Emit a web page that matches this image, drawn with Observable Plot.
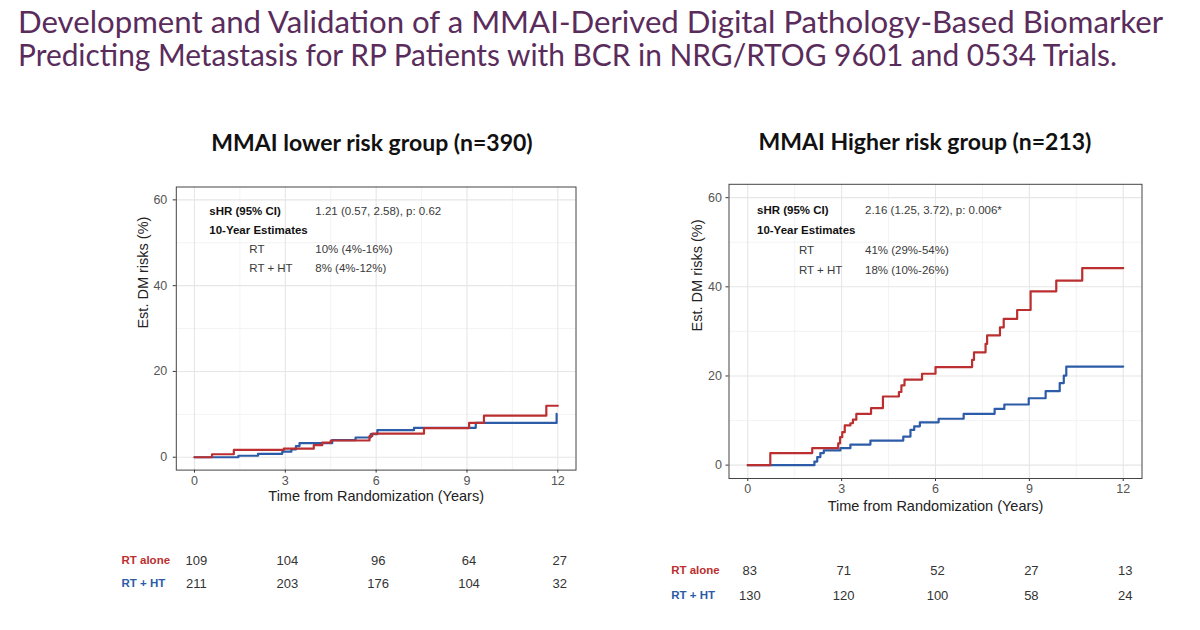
<!DOCTYPE html>
<html><head><meta charset="utf-8">
<script src="https://cdn.jsdelivr.net/npm/d3@7"></script>
<script src="https://cdn.jsdelivr.net/npm/@observablehq/plot@0.6"></script>
<style>
body{margin:0;width:1200px;height:630px;background:#fff;position:relative;overflow:hidden;font-family:"Liberation Sans",Arial,sans-serif;}
.tline{position:absolute;left:18px;font-family:Lato,sans-serif;font-size:30px;color:#5a2c5c;line-height:34px;white-space:nowrap;transform-origin:0 0;}
.ptitle{position:absolute;font-family:Lato,sans-serif;font-weight:bold;font-size:23px;color:#111;text-align:center;line-height:28px;white-space:nowrap;}
.abs{position:absolute;}
</style></head><body>
<div id="t1" class="tline" style="top:4px;" data-w="1145">Development and Validation of a MMAI-Derived Digital Pathology-Based Biomarker</div>
<div id="t2" class="tline" style="top:37px;" data-w="1099">Predicting Metastasis for RP Patients with BCR in NRG/RTOG 9601 and 0534 Trials.</div>
<div class="ptitle" style="left:172px;top:128px;width:400px;">MMAI lower risk group (n=390)</div>
<div class="ptitle" style="left:725px;top:127px;width:400px;">MMAI Higher risk group (n=213)</div>
<div id="lowKM" class="abs" style="left:100px;top:170px;"></div>
<div id="highKM" class="abs" style="left:640px;top:170px;"></div>
<div id="lowTab" class="abs" style="left:100px;top:540px;"></div>
<div id="highTab" class="abs" style="left:640px;top:550px;"></div>
<script>
// ---------- data ----------
const groups = ["RT alone", "RT + HT"];
const yearTicks = [0, 3, 6, 9, 12];
const yearMinor = [1.5, 4.5, 7.5, 10.5];
const riskTicks = [0, 20, 40, 60];
const riskMinor = [10, 30, 50];
const xTitle = "Time from Randomization (Years)";
const yTitle = "Est. DM risks (%)";
const statLabels = ["sHR (95% CI)", "10-Year Estimates", "RT", "RT + HT"];

// lower risk group: [years, cumulative incidence %]
const lowerRT = [[0,0],[0.58,0.7],[1.30,1.7],[2.95,2.0],[3.94,2.8],[4.22,3.4],[4.5,3.9],[5.78,4.9],[5.87,5.5],[7.58,6.8],[9.07,8.0],[9.56,9.7],[11.62,12.0],[12,12.0]];
const lowerRTHT = [[0,0],[1.45,0.35],[2.1,0.8],[2.9,1.3],[3.2,1.8],[3.35,2.6],[3.47,3.3],[4.55,4.0],[5.32,4.6],[5.82,5.4],[6.04,6.3],[7.25,6.85],[9.29,8.0],[11.96,10.1]];
const lowerStats = ["1.21 (0.57, 2.58), p: 0.62", "10% (4%-16%)", "8% (4%-12%)"];
const lowerAtRiskRT = [109, 104, 96, 64, 27];
const lowerAtRiskRTHT = [211, 203, 176, 104, 32];

// higher risk group
const higherRT = [[0,0],[0.72,2.7],[2.06,3.8],[2.89,4.9],[2.95,6.3],[3.02,7.4],[3.1,8.9],[3.28,9.4],[3.36,10.2],[3.47,11.5],[3.94,12.8],[4.32,15.4],[4.83,16.4],[4.91,17.9],[5.01,19.2],[5.57,20.5],[6.0,22.0],[7.17,23.6],[7.23,25.3],[7.6,27.2],[7.65,29.1],[8.06,30.9],[8.18,32.8],[8.61,34.8],[9.04,39.0],[9.86,41.4],[10.69,44.2],[12,44.2]];
const higherRTHT = [[0,0],[2.13,0.8],[2.22,1.8],[2.32,2.7],[2.43,3.3],[2.96,3.8],[3.28,4.6],[3.92,5.5],[4.97,6.4],[5.2,7.9],[5.32,8.7],[5.5,9.6],[6.1,10.4],[6.9,11.5],[7.89,12.6],[8.2,13.6],[8.98,15.0],[9.52,16.6],[9.97,18.4],[10.1,20.1],[10.18,22.1],[12,22.1]];
const higherStats = ["2.16 (1.25, 3.72), p: 0.006*", "41% (29%-54%)", "18% (10%-26%)"];
const higherAtRiskRT = [83, 71, 52, 27, 13];
const higherAtRiskRTHT = [130, 120, 100, 58, 24];

// ---------- styling ----------
const COLORS = ["#bb2f30", "#2c5ba8"];
const FONT = "'Liberation Sans', Arial, sans-serif";

// fit title lines to the reference widths
for (const id of ["t1", "t2"]) {
  const el = document.getElementById(id);
  const w = el.getBoundingClientRect().width;
  el.style.transform = `scaleX(${(+el.dataset.w) / w})`;
}

function kmPlot(cfg) {
  const rows = (arr, g) => arr.map(([t, v]) => ({t, v, g}));
  const rt = rows(cfg.rt, groups[0]);
  const ht = rows(cfg.ht, groups[1]);
  const L = cfg.lay;
  const fs = 11.5;
  const txt = (s, dx, dy, bold) => Plot.text([s], {frameAnchor: "top-left", dx, dy, textAnchor: "start",
    fontSize: fs, fontWeight: bold ? "bold" : "normal", fill: bold ? "#111" : "#3a3a3a"});
  return Plot.plot({
    width: L.width, height: L.height,
    marginLeft: L.ml, marginRight: L.mr, marginTop: L.mt, marginBottom: L.mb,
    x: {domain: [-0.6, 12.6]},
    y: {domain: [-3, 63]},
    color: {domain: groups, range: COLORS},
    style: {fontFamily: FONT, fontSize: "12px", color: "#555", background: "white", overflow: "visible"},
    marks: [
      Plot.gridX(yearMinor, {stroke: "#f0f0f0", strokeOpacity: 1, strokeWidth: 0.8}),
      Plot.gridY(riskMinor, {stroke: "#f0f0f0", strokeOpacity: 1, strokeWidth: 0.8}),
      Plot.gridX(yearTicks, {stroke: "#e6e6e6", strokeOpacity: 1, strokeWidth: 1.1}),
      Plot.gridY(riskTicks, {stroke: "#e6e6e6", strokeOpacity: 1, strokeWidth: 1.1}),
      Plot.axisX(yearTicks, {tickSize: 3, tickPadding: 3, fontSize: 12.5, label: null, stroke: "#333"}),
      Plot.axisY(riskTicks, {tickSize: 3, tickPadding: L.yPad, fontSize: 12.5, label: null, stroke: "#333"}),
      Plot.text([xTitle], {frameAnchor: "bottom", dy: L.xTitleDy, fontSize: 14.5, fill: "#222"}),
      Plot.text([yTitle], {frameAnchor: "left", rotate: -90, dx: L.yTitleDx, fontSize: 14.5, fill: "#222"}),
      Plot.line(ht, {x: "t", y: "v", stroke: "g", curve: "step-after", strokeWidth: 2.2}),
      Plot.line(rt, {x: "t", y: "v", stroke: "g", curve: "step-after", strokeWidth: 2.2}),
      Plot.frame({stroke: "#444", strokeWidth: 1}),
      txt(statLabels[0], L.c1, L.r[0], true),
      txt(statLabels[1], L.c1, L.r[1], true),
      txt(statLabels[2], L.c2, L.r[2], false),
      txt(statLabels[3], L.c2, L.r[3], false),
      txt(cfg.stats[0], L.c3, L.r[0], false),
      txt(cfg.stats[1], L.c3, L.r[2], false),
      txt(cfg.stats[2], L.c3, L.r[3], false)
    ]
  });
}

function riskTable(cfg) {
  const rows = [];
  yearTicks.forEach((t, i) => {
    rows.push({t, g: groups[0], n: cfg.rtN[i]});
    rows.push({t, g: groups[1], n: cfg.htN[i]});
  });
  const L = cfg.lay;
  return Plot.plot({
    width: L.width, height: L.height,
    marginLeft: L.ml, marginRight: L.mr, marginTop: 0, marginBottom: 0,
    x: {domain: [-0.6, 12.6], axis: null},
    y: {type: "point", domain: groups, range: L.rowRange, padding: 0, axis: null},
    color: {domain: groups, range: COLORS},
    style: {fontFamily: FONT, background: "white", overflow: "visible"},
    marks: [
      Plot.text(rows, {x: "t", y: "g", text: "n", dx: 2, fontSize: 13, fill: "#333"}),
      Plot.text(groups, {y: d => d, frameAnchor: "left", dx: L.labelDx, textAnchor: "start", fill: d => d, fontWeight: "bold", fontSize: 11.5})
    ]
  });
}

const lowLay = {width: 490, height: 345, ml: 75.8, mr: 14.5, mt: 16.5, mb: 45.4, yPad: 6, xTitleDy: 31, yTitleDx: -33,
  c1: 33, c2: 73, c3: 139, r: [19.5, 39, 57.5, 76.5]};
const highLay = {width: 520, height: 350, ml: 88.5, mr: 18.5, mt: 13.8, mb: 42, yPad: 4, xTitleDy: 32, yTitleDx: -32,
  c1: 28, c2: 70, c3: 136, r: [21.2, 41.9, 61.2, 81.2]};

document.getElementById("lowKM").append(kmPlot({rt: lowerRT, ht: lowerRTHT, stats: lowerStats, lay: lowLay}));
document.getElementById("highKM").append(kmPlot({rt: higherRT, ht: higherRTHT, stats: higherStats, lay: highLay}));
document.getElementById("lowTab").append(riskTable({rtN: lowerAtRiskRT, htN: lowerAtRiskRTHT,
  lay: {width: 490, height: 60, ml: 75.8, mr: 14.5, rowRange: [19.3, 43.3], labelDx: -54.8}}));
document.getElementById("highTab").append(riskTable({rtN: higherAtRiskRT, htN: higherAtRiskRTHT,
  lay: {width: 520, height: 60, ml: 88.5, mr: 18.5, rowRange: [20, 45.7], labelDx: -57.8}}));
</script>
</body></html>
